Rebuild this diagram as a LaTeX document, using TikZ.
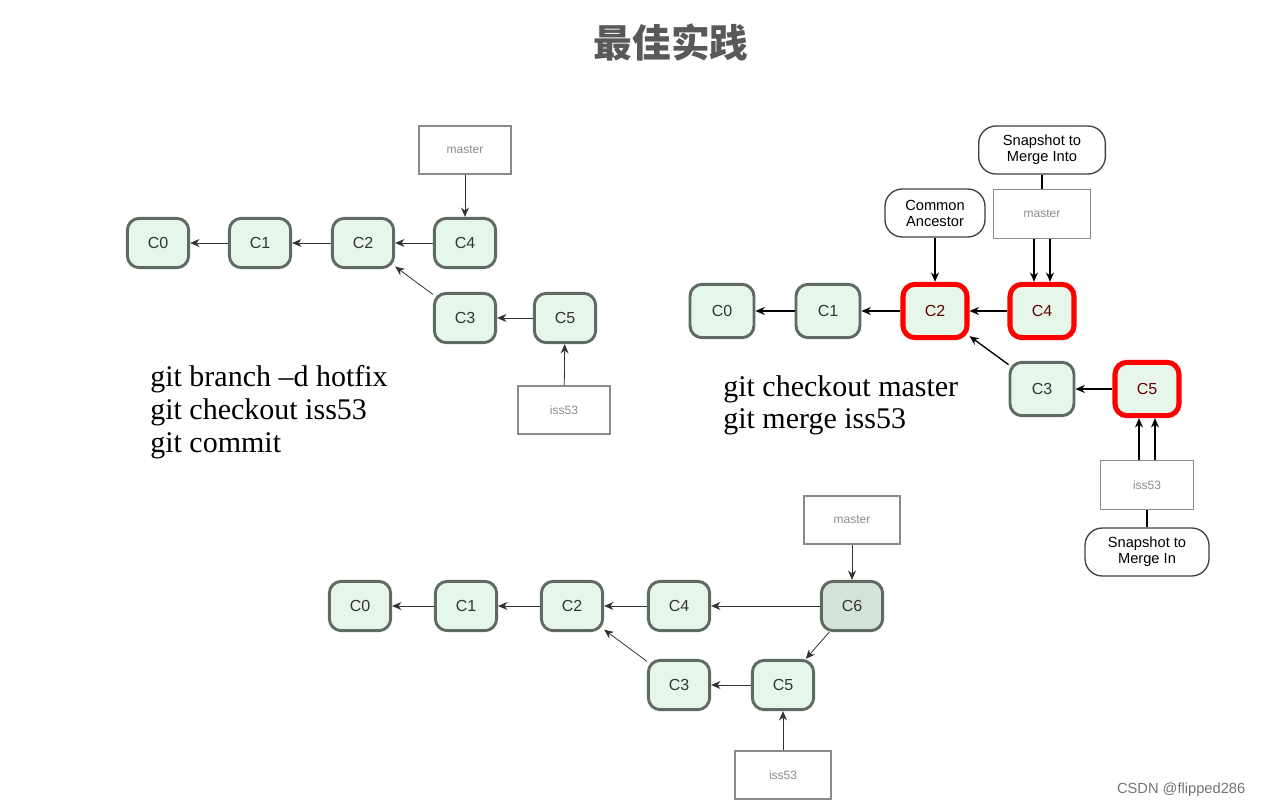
\documentclass[tikz,border=0pt]{standalone}
\usepackage{fontspec}
\setmainfont{Liberation Serif}
\newfontfamily\cjk{Noto Sans CJK SC}
\newfontfamily\sans{Liberation Sans}
\usetikzlibrary{arrows.meta}
\definecolor{cfill}{HTML}{E6F7EA}
\definecolor{cdraw}{HTML}{5F6A62}
\definecolor{bgray}{HTML}{8A8A8A}
\begin{document}
\begin{tikzpicture}[x=0.75pt,y=-0.75pt,
 commit/.style={draw=cdraw,line width=2.2pt,fill=cfill,rounded corners=9pt,minimum width=46pt,minimum height=37pt,font=\sans\fontsize{12}{12}\selectfont,text=black!80},
 bigcommit/.style={commit,minimum width=48pt,minimum height=40pt},
 red/.style={draw=red,line width=3.8pt,text=red!40!black},
 branch/.style={draw=bgray,line width=1pt,fill=white,minimum width=69pt,minimum height=36pt,font=\sans\fontsize{9}{9}\selectfont,text=black!45},
 note/.style={draw=black!75,line width=1pt,rounded corners=13pt,fill=white,minimum width=95pt,minimum height=36pt,align=center,font=\sans\fontsize{11}{12}\selectfont,inner sep=2pt},
 arr/.style={-{Stealth[length=7pt,width=6pt]},line width=0.6pt,black!80},
 barr/.style={arr,line width=1pt,black},
 cmd/.style={anchor=base west,inner sep=0pt,font=\fontsize{22.5}{22.5}\selectfont}]
\useasboundingbox (0,0) rectangle (1264,807);
\node[font=\cjk\bfseries\fontsize{29}{29}\selectfont,text=black!65] (title) at (671,42) {最佳实践};
% top-left
\node[commit] (a0) at (158,243) {C0};
\node[commit] (a1) at (260,243) {C1};
\node[commit] (a2) at (363,243) {C2};
\node[commit] (a4) at (465,243) {C4};
\node[commit] (a3) at (465,318) {C3};
\node[commit] (a5) at (565,318) {C5};
\node[branch] (am) at (465,150) {master};
\node[branch] (ai) at (564,410) {iss53};
\draw[arr] (a1) -- (a0); \draw[arr] (a2) -- (a1); \draw[arr] (a4) -- (a2);
\draw[arr] (a3) -- (a2); \draw[arr] (a5) -- (a3);
\draw[arr] (am) -- (a4); \draw[arr] (ai) -- (a5);
\node[cmd] (t1) at (150,386) {git branch --d hotfix};
\node[cmd] (t2) at (150,419) {git checkout iss53};
\node[cmd] (t3) at (150,452) {git commit};
% top-right
\node[bigcommit] (b0) at (722,311) {C0};
\node[bigcommit] (b1) at (828,311) {C1};
\node[bigcommit,red] (b2) at (935,311) {C2};
\node[bigcommit,red] (b4) at (1042,311) {C4};
\node[bigcommit] (b3) at (1042,389) {C3};
\node[bigcommit,red] (b5) at (1147,389) {C5};
\node[branch,minimum width=73pt,minimum height=37pt] (bm) at (1042,214) {master};
\node[branch,minimum width=70pt,minimum height=37pt] (bi) at (1147,485) {iss53};
\node[note,minimum width=75pt] (ca) at (935,213) {Common\\Ancestor};
\node[note] (si) at (1042,150) {Snapshot to\\Merge Into};
\node[note,minimum width=93pt] (sn) at (1147,552) {Snapshot to\\Merge In};
\draw[barr] (b1) -- (b0); \draw[barr] (b2) -- (b1); \draw[barr] (b4) -- (b2);
\draw[barr] (b3) -- (b2); \draw[barr] (b5) -- (b3);
\draw[barr] (ca) -- (b2);
\draw[line width=1pt] (si) -- (bm);
\draw[barr] ([xshift=-6pt]bm.south) -- ([xshift=-6pt]b4.north);
\draw[barr] ([xshift=6pt]bm.south) -- ([xshift=6pt]b4.north);
\draw[line width=1pt] (sn) -- (bi);
\draw[barr] ([xshift=-6pt]bi.north) -- ([xshift=-6pt]b5.south);
\draw[barr] ([xshift=6pt]bi.north) -- ([xshift=6pt]b5.south);
\node[cmd] (t4) at (723,396) {git checkout master};
\node[cmd] (t5) at (723,428) {git merge iss53};
% bottom
\node[commit] (c0) at (360,606) {C0};
\node[commit] (c1) at (466,606) {C1};
\node[commit] (c2) at (572,606) {C2};
\node[commit] (c4) at (679,606) {C4};
\node[commit,fill=black!8!cfill] (c6) at (852,606) {C6};
\node[commit] (c3) at (679,685) {C3};
\node[commit] (c5) at (783,685) {C5};
\node[branch,minimum width=72pt] (cm) at (852,520) {master};
\node[branch,minimum width=72pt] (ci) at (783,775) {iss53};
\draw[arr] (c1) -- (c0); \draw[arr] (c2) -- (c1); \draw[arr] (c4) -- (c2);
\draw[arr] (c6) -- (c4); \draw[arr] (c3) -- (c2); \draw[arr] (c5) -- (c3);
\draw[arr] (c6) -- (c5);
\draw[arr] (cm) -- (c6); \draw[arr] (ci) -- (c5);
\node[anchor=east,font=\sans\fontsize{11}{11}\selectfont,text=black!55] (wm) at (1250,790) {CSDN @flipped286};
\end{tikzpicture}
\end{document}
